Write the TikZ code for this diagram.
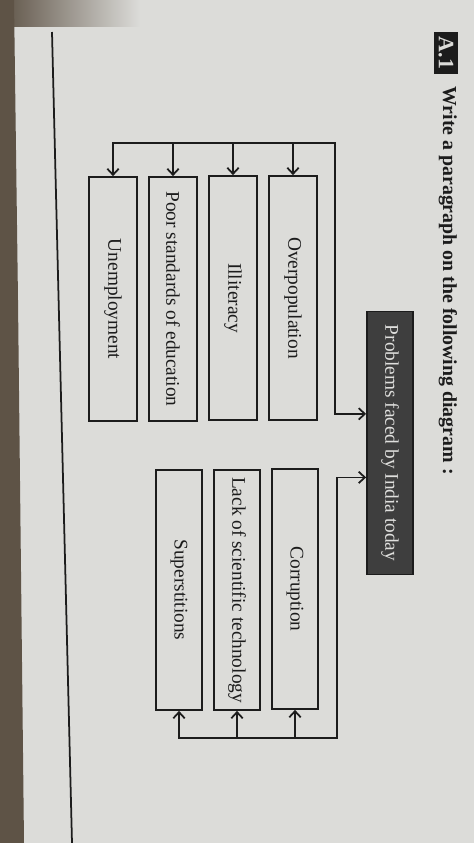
\documentclass[tikz,border=0pt]{standalone}
\usepackage{fontspec}
\setmainfont{Liberation Serif}
\usetikzlibrary{positioning, calc, arrows.meta}

\definecolor{paper}{HTML}{DCDCD9}
\definecolor{wood}{HTML}{5E5346}
\definecolor{ink}{HTML}{1C1C1C}
\definecolor{shade}{HTML}{3E3E3E}

\begin{document}
\begin{tikzpicture}[x=0.02cm, y=-0.02cm, >={Straight Barb[length=3.5pt,width=6.5pt]},
  cause/.style={draw=ink, line width=1pt, rotate=-90, inner sep=0pt,
    minimum width=4.88cm, minimum height=0.96cm,
    font=\fontsize{11}{13}\selectfont, text=ink},
  link/.style={draw=ink, line width=1pt}]

  % page
  \useasboundingbox (0,0) rectangle (474,843);
  \fill[paper] (0,0) rectangle (474,843);
  \shade[left color=wood, right color=paper] (0,0) rectangle (140,26);
  \fill[wood] (0,0) -- (14,0) -- (18,300) -- (24,843) -- (0,843) -- cycle;
  \draw[ink, line width=1pt] (52,32) -- (72,843);

  % question
  \node[fill=ink, rotate=-90, inner sep=2.5pt, text=paper,
    font=\fontsize{12.5}{14}\selectfont\bfseries] (q) at (446,53) {A.1};
  \node[rotate=-90, anchor=west, text=ink,
    font=\fontsize{11.3}{13}\selectfont\bfseries] (title) at (448,80)
    {Write a paragraph on the following diagram :};

  % centre
  \node[cause, fill=shade, minimum width=5.26cm, minimum height=0.92cm,
    text=paper!90!white] (prob) at (390,443) {Problems faced by India today};

  % first group
  \node[cause] (over) at (293,298) {Overpopulation};
  \node[cause] (illit) at (233,298) {Illiteracy};
  \node[cause] (poor) at (173,299) {Poor standards of education};
  \node[cause] (unemp) at (113,299) {Unemployment};

  % second group
  \node[cause, minimum width=4.8cm, minimum height=0.92cm] (corr) at (295,589) {Corruption};
  \node[cause, minimum width=4.8cm, minimum height=0.92cm] (lack) at (237,590) {Lack of scientific technology};
  \node[cause, minimum width=4.8cm, minimum height=0.92cm] (sup) at (179,590) {Superstitions};

  \coordinate (topbus) at (335,143);
  \coordinate (botbus) at (337,738);

  \draw[link, <->] ($(prob.south west)!0.39!(prob.south east)$) -| (topbus) -| (unemp.west);
  \draw[link, ->] (poor.west |- topbus) -- (poor.west);
  \draw[link, ->] (illit.west |- topbus) -- (illit.west);
  \draw[link, ->] (over.west |- topbus) -- (over.west);

  \draw[link, <->] ($(prob.south west)!0.63!(prob.south east)$) -| (botbus) -| (sup.east);
  \draw[link, ->] (lack.east |- botbus) -- (lack.east);
  \draw[link, ->] (corr.east |- botbus) -- (corr.east);
\end{tikzpicture}
\end{document}
